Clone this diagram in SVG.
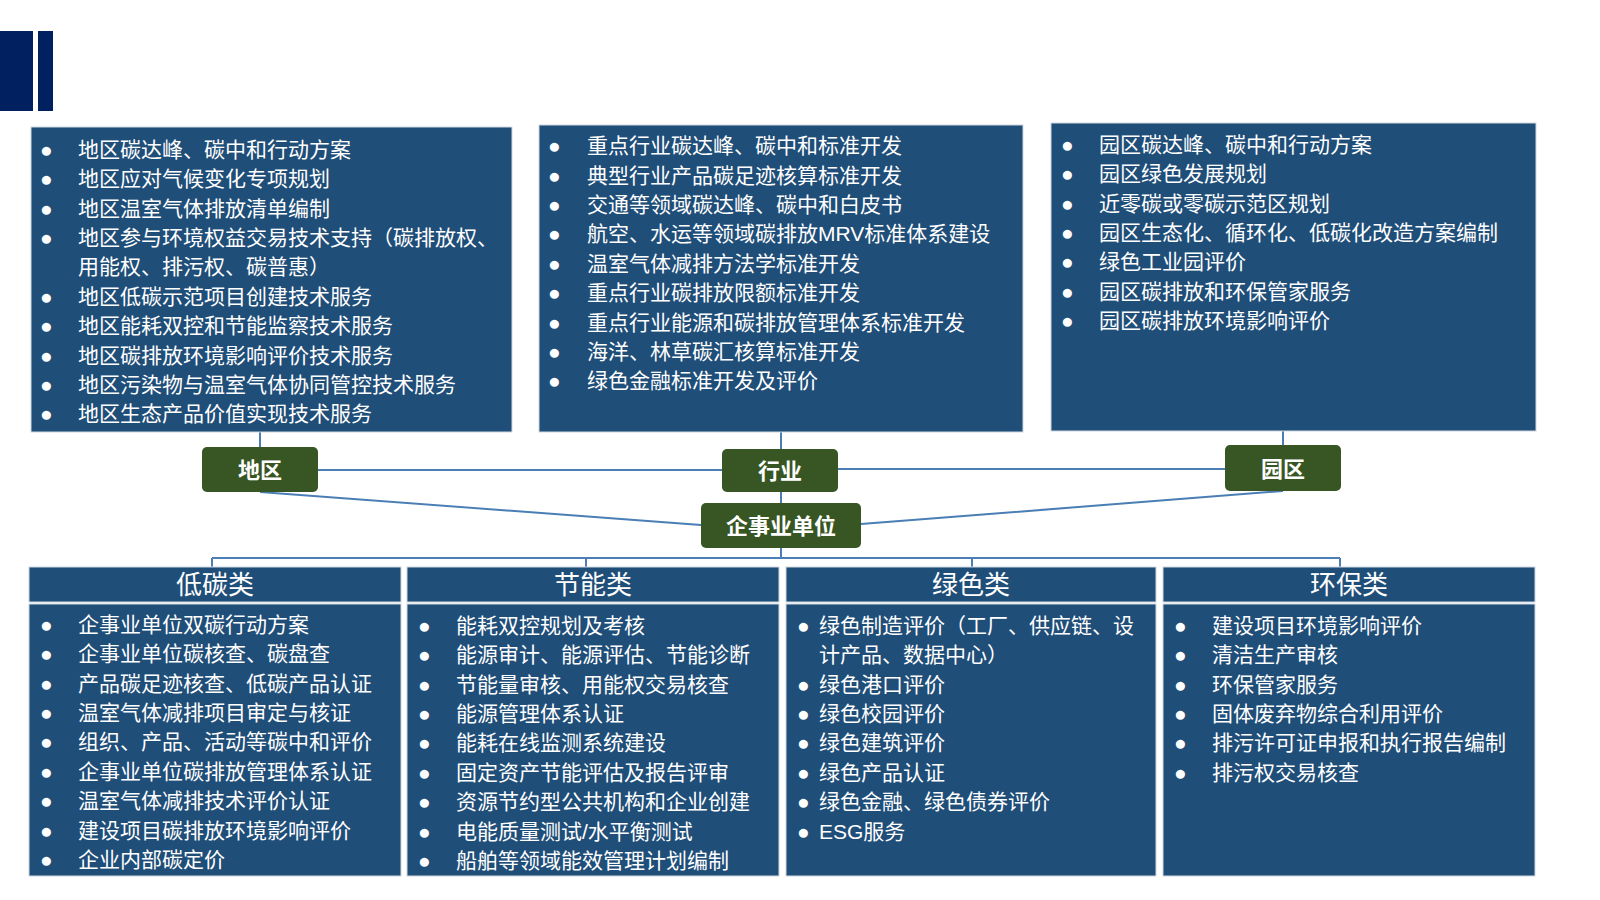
<svg xmlns="http://www.w3.org/2000/svg" width="1600" height="900" viewBox="0 0 1600 900">
<style>
text{font-family:"Liberation Sans","Noto Sans CJK SC",sans-serif;fill:#fff}
.box{fill:#1F4E79;stroke:#d0d8e0;stroke-width:1}
.t{font-size:21px}
.h{font-size:26px;text-anchor:middle}
.n{fill:#375623}
.nt{font-size:22px;font-weight:bold;text-anchor:middle}
.c{stroke:#4A7EB5;stroke-width:2;fill:none}
</style>
<rect width="1600" height="900" fill="#fff"/>
<rect x="0" y="31" width="33" height="80" fill="#002060"/>
<rect x="38" y="31" width="15" height="80" fill="#002060"/>
<g id="connectors">
<path class="c" d="M260 432V447M781 432V449M1283 431V445M318 470H722M838 469H1225M781 492V503M260 492L701 525M1283 491L861 524M781 548V558M212 558H1340M212 558V567M586 558V567M972 558V567M1340 558V567"/>
</g>
<g id="box-diqu">
<rect class="box" x="31" y="127" width="481" height="305"/>
<g class="t">
<text x="40" y="157">●</text><text x="78" y="157">地区碳达峰、碳中和行动方案</text>
<text x="40" y="186">●</text><text x="78" y="186">地区应对气候变化专项规划</text>
<text x="40" y="216">●</text><text x="78" y="216">地区温室气体排放清单编制</text>
<text x="40" y="245">●</text><text x="78" y="245">地区参与环境权益交易技术支持（碳排放权、</text>
<text x="78" y="274">用能权、排污权、碳普惠）</text>
<text x="40" y="304">●</text><text x="78" y="304">地区低碳示范项目创建技术服务</text>
<text x="40" y="333">●</text><text x="78" y="333">地区能耗双控和节能监察技术服务</text>
<text x="40" y="363">●</text><text x="78" y="363">地区碳排放环境影响评价技术服务</text>
<text x="40" y="392">●</text><text x="78" y="392">地区污染物与温室气体协同管控技术服务</text>
<text x="40" y="421">●</text><text x="78" y="421">地区生态产品价值实现技术服务</text>
</g></g>
<g id="box-hangye">
<rect class="box" x="539" y="125" width="484" height="307"/>
<g class="t">
<text x="548" y="153">●</text><text x="587" y="153">重点行业碳达峰、碳中和标准开发</text>
<text x="548" y="183">●</text><text x="587" y="183">典型行业产品碳足迹核算标准开发</text>
<text x="548" y="212">●</text><text x="587" y="212">交通等领域碳达峰、碳中和白皮书</text>
<text x="548" y="241">●</text><text x="587" y="241">航空、水运等领域碳排放MRV标准体系建设</text>
<text x="548" y="271">●</text><text x="587" y="271">温室气体减排方法学标准开发</text>
<text x="548" y="300">●</text><text x="587" y="300">重点行业碳排放限额标准开发</text>
<text x="548" y="330">●</text><text x="587" y="330">重点行业能源和碳排放管理体系标准开发</text>
<text x="548" y="359">●</text><text x="587" y="359">海洋、林草碳汇核算标准开发</text>
<text x="548" y="388">●</text><text x="587" y="388">绿色金融标准开发及评价</text>
</g></g>
<g id="box-yuanqu">
<rect class="box" x="1051" y="123" width="485" height="308"/>
<g class="t">
<text x="1061" y="152">●</text><text x="1099" y="152">园区碳达峰、碳中和行动方案</text>
<text x="1061" y="181">●</text><text x="1099" y="181">园区绿色发展规划</text>
<text x="1061" y="211">●</text><text x="1099" y="211">近零碳或零碳示范区规划</text>
<text x="1061" y="240">●</text><text x="1099" y="240">园区生态化、循环化、低碳化改造方案编制</text>
<text x="1061" y="269">●</text><text x="1099" y="269">绿色工业园评价</text>
<text x="1061" y="299">●</text><text x="1099" y="299">园区碳排放和环保管家服务</text>
<text x="1061" y="328">●</text><text x="1099" y="328">园区碳排放环境影响评价</text>
</g></g>
<g id="node-diqu"><rect class="n" x="202" y="447" width="116" height="45" rx="5"/><text class="nt" x="260" y="478">地区</text></g>
<g id="node-hangye"><rect class="n" x="722" y="449" width="116" height="43" rx="5"/><text class="nt" x="780" y="479">行业</text></g>
<g id="node-yuanqu"><rect class="n" x="1225" y="445" width="116" height="46" rx="5"/><text class="nt" x="1283" y="477">园区</text></g>
<g id="node-qishiye"><rect class="n" x="701" y="503" width="160" height="45" rx="5"/><text class="nt" x="781" y="534">企事业单位</text></g>
<g id="cat-ditan">
<rect class="box" x="29" y="567" width="372" height="35"/><text class="h" x="215" y="594">低碳类</text>
<rect class="box" x="29" y="604" width="372" height="272"/>
<g class="t">
<text x="40" y="632">●</text><text x="78" y="632">企事业单位双碳行动方案</text>
<text x="40" y="661">●</text><text x="78" y="661">企事业单位碳核查、碳盘查</text>
<text x="40" y="691">●</text><text x="78" y="691">产品碳足迹核查、低碳产品认证</text>
<text x="40" y="720">●</text><text x="78" y="720">温室气体减排项目审定与核证</text>
<text x="40" y="749">●</text><text x="78" y="749">组织、产品、活动等碳中和评价</text>
<text x="40" y="779">●</text><text x="78" y="779">企事业单位碳排放管理体系认证</text>
<text x="40" y="808">●</text><text x="78" y="808">温室气体减排技术评价认证</text>
<text x="40" y="838">●</text><text x="78" y="838">建设项目碳排放环境影响评价</text>
<text x="40" y="867">●</text><text x="78" y="867">企业内部碳定价</text>
</g></g>
<g id="cat-jieneng">
<rect class="box" x="407" y="567" width="372" height="35"/><text class="h" x="593" y="594">节能类</text>
<rect class="box" x="407" y="604" width="372" height="272"/>
<g class="t">
<text x="418" y="633">●</text><text x="456" y="633">能耗双控规划及考核</text>
<text x="418" y="662">●</text><text x="456" y="662">能源审计、能源评估、节能诊断</text>
<text x="418" y="692">●</text><text x="456" y="692">节能量审核、用能权交易核查</text>
<text x="418" y="721">●</text><text x="456" y="721">能源管理体系认证</text>
<text x="418" y="750">●</text><text x="456" y="750">能耗在线监测系统建设</text>
<text x="418" y="780">●</text><text x="456" y="780">固定资产节能评估及报告评审</text>
<text x="418" y="809">●</text><text x="456" y="809">资源节约型公共机构和企业创建</text>
<text x="418" y="839">●</text><text x="456" y="839">电能质量测试/水平衡测试</text>
<text x="418" y="868">●</text><text x="456" y="868">船舶等领域能效管理计划编制</text>
</g></g>
<g id="cat-lvse">
<rect class="box" x="786" y="567" width="370" height="35"/><text class="h" x="971" y="594">绿色类</text>
<rect class="box" x="786" y="604" width="370" height="272"/>
<g class="t">
<text x="797" y="633">●</text><text x="819" y="633">绿色制造评价（工厂、供应链、设</text>
<text x="819" y="662">计产品、数据中心）</text>
<text x="797" y="692">●</text><text x="819" y="692">绿色港口评价</text>
<text x="797" y="721">●</text><text x="819" y="721">绿色校园评价</text>
<text x="797" y="750">●</text><text x="819" y="750">绿色建筑评价</text>
<text x="797" y="780">●</text><text x="819" y="780">绿色产品认证</text>
<text x="797" y="809">●</text><text x="819" y="809">绿色金融、绿色债券评价</text>
<text x="797" y="839">●</text><text x="819" y="839">ESG服务</text>
</g></g>
<g id="cat-huanbao">
<rect class="box" x="1163" y="567" width="372" height="35"/><text class="h" x="1349" y="594">环保类</text>
<rect class="box" x="1163" y="604" width="372" height="272"/>
<g class="t">
<text x="1174" y="633">●</text><text x="1212" y="633">建设项目环境影响评价</text>
<text x="1174" y="662">●</text><text x="1212" y="662">清洁生产审核</text>
<text x="1174" y="692">●</text><text x="1212" y="692">环保管家服务</text>
<text x="1174" y="721">●</text><text x="1212" y="721">固体废弃物综合利用评价</text>
<text x="1174" y="750">●</text><text x="1212" y="750">排污许可证申报和执行报告编制</text>
<text x="1174" y="780">●</text><text x="1212" y="780">排污权交易核查</text>
</g></g>
</svg>
